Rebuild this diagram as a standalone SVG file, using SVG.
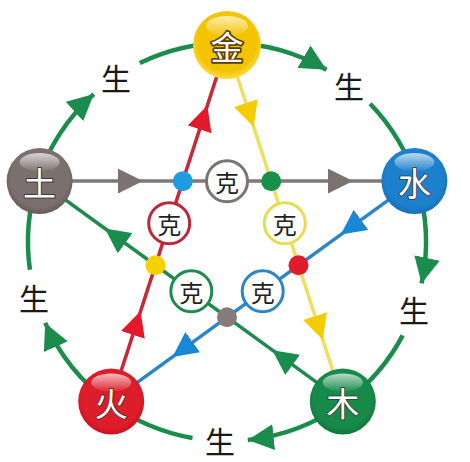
<svg xmlns="http://www.w3.org/2000/svg" width="470" height="462" viewBox="0 0 470 462">
<style>
.arc{fill:none;stroke:#1a8d4c;stroke-width:4.5;marker-end:url(#ag)}
.arc2{fill:none;stroke:#1a8d4c;stroke-width:4.5}
.star{fill:none;stroke-width:3.5}
.ke{fill:#fff;stroke-width:3}
.ket{font-family:"Noto Sans CJK SC","Noto Sans CJK JP",sans-serif;font-size:24px;fill:#222;text-anchor:middle;dominant-baseline:central}
.sheng{font-family:"Noto Sans CJK SC","Noto Sans CJK JP",sans-serif;font-size:30px;fill:#1a1a1a;text-anchor:middle;dominant-baseline:central}
.nt{font-family:"Noto Sans CJK SC","Noto Sans CJK JP",sans-serif;font-size:33px;fill:#fff;text-anchor:middle;dominant-baseline:central;paint-order:stroke;stroke-width:2;stroke-linejoin:round}
.hl{fill:url(#hlg)}
</style>
<defs>
<linearGradient id="hlg" x1="0" y1="0" x2="0" y2="1">
<stop offset="0" stop-color="#fff" stop-opacity="0.7"/>
<stop offset="1" stop-color="#fff" stop-opacity="0.05"/>
</linearGradient>
<radialGradient id="gJin" cx="0.5" cy="0.45" r="0.55"><stop offset="0.8" stop-color="#f4c400"/><stop offset="1" stop-color="#f7dc4a"/></radialGradient>
<radialGradient id="gTu" cx="0.5" cy="0.45" r="0.55"><stop offset="0.8" stop-color="#7b706d"/><stop offset="1" stop-color="#665b59"/></radialGradient>
<radialGradient id="gShui" cx="0.5" cy="0.45" r="0.55"><stop offset="0.8" stop-color="#1c80cc"/><stop offset="1" stop-color="#1670b8"/></radialGradient>
<radialGradient id="gHuo" cx="0.5" cy="0.45" r="0.55"><stop offset="0.8" stop-color="#dd1e2a"/><stop offset="1" stop-color="#c8141f"/></radialGradient>
<radialGradient id="gMu" cx="0.5" cy="0.45" r="0.55"><stop offset="0.8" stop-color="#178a4a"/><stop offset="1" stop-color="#10763d"/></radialGradient>
<marker id="ag" markerUnits="userSpaceOnUse" markerWidth="26" markerHeight="26" viewBox="0 0 24 24" refX="24" refY="12" orient="auto"><path d="M0,0 L24,12 L0,24 z" fill="#1a8d4c"/></marker>
<marker id="agr" markerUnits="userSpaceOnUse" markerWidth="25" markerHeight="25" viewBox="0 0 24 24" refX="24" refY="12" orient="auto"><path d="M0,0 L24,12 L0,24 z" fill="#7c7370"/></marker>
<marker id="ard" markerUnits="userSpaceOnUse" markerWidth="25" markerHeight="25" viewBox="0 0 24 24" refX="24" refY="12" orient="auto"><path d="M0,0 L24,12 L0,24 z" fill="#e2192b"/></marker>
<marker id="ayl" markerUnits="userSpaceOnUse" markerWidth="25" markerHeight="25" viewBox="0 0 24 24" refX="24" refY="12" orient="auto"><path d="M0,0 L24,12 L0,24 z" fill="#f5cc00"/></marker>
<marker id="abl" markerUnits="userSpaceOnUse" markerWidth="25" markerHeight="25" viewBox="0 0 24 24" refX="24" refY="12" orient="auto"><path d="M0,0 L24,12 L0,24 z" fill="#1888d6"/></marker>
<marker id="agn" markerUnits="userSpaceOnUse" markerWidth="25" markerHeight="25" viewBox="0 0 24 24" refX="24" refY="12" orient="auto"><path d="M0,0 L24,12 L0,24 z" fill="#1a8d4c"/></marker>
</defs>
<rect width="470" height="462" fill="#fff"/>
<g id="connectors">
<g id="sheng-cycle">
<path class="arc" d="M37.7,180.5 A199,199 0 0 1 93.8,94.1"/>
<path class="arc2" d="M139.8,63.1 A199,199 0 0 1 227,43"/>
<path class="arc" d="M227,43 A199,199 0 0 1 326.5,69.7"/>
<path class="arc2" d="M370.1,103.8 A199,199 0 0 1 416.3,180.5"/>
<path class="arc" d="M416.3,180.5 A199,199 0 0 1 421.6,283.4"/>
<path class="arc2" d="M402.7,335.4 A199,199 0 0 1 344,403"/>
<path class="arc" d="M344,403 A199,199 0 0 1 247.8,439.9"/>
<path class="arc2" d="M192.5,438 A199,199 0 0 1 110,403"/>
<path class="arc" d="M110,403 A199,199 0 0 1 45.2,322.9"/>
<path class="arc2" d="M29.9,269.7 A199,199 0 0 1 37.7,180.5"/>
</g>
<g id="ke-cycle">
<polyline class="star" stroke="#7f7876" marker-mid="url(#agr)" points="39.6,181.1 143,181.1 353,181.1 414.4,181.1"/>
<polyline class="star" stroke="#c62a3a" marker-mid="url(#ard)" points="111.2,401.4 140.6,311.1 207.3,105.6 227,45"/>
<polyline class="star" stroke="#ece05c" marker-mid="url(#ayl)" points="227,45 253.6,126.8 322.8,339.8 342.8,401.4"/>
<polyline class="star" stroke="#2a86c8" marker-mid="url(#abl)" points="414.4,181.1 340.8,234.6 172.5,356.9 111.2,401.4"/>
<polyline class="star" stroke="#1f8a4f" marker-mid="url(#agn)" points="342.8,401.4 272.4,350.2 104.9,228.5 39.6,181.1"/>
</g>
<g id="ke-labels">
<circle class="ke" cx="227" cy="181.2" r="20.5" stroke="#7a7472"/>
<text class="ket" x="227" y="181.2">克</text>
<circle class="ke" cx="169.2" cy="223.2" r="20.5" stroke="#b8293b"/>
<text class="ket" x="169.2" y="223.2">克</text>
<circle class="ke" cx="284.8" cy="223.2" r="20.5" stroke="#e6dc50"/>
<text class="ket" x="284.8" y="223.2">克</text>
<circle class="ke" cx="191.3" cy="291.2" r="20.5" stroke="#1f8a4f"/>
<text class="ket" x="191.3" y="291.2">克</text>
<circle class="ke" cx="262.7" cy="291.2" r="20.5" stroke="#2a86c8"/>
<text class="ket" x="262.7" y="291.2">克</text>
</g>
<g id="junctions">
<circle cx="182.8" cy="181.2" r="10" fill="#1e9ce2"/>
<circle cx="271.2" cy="181.2" r="10" fill="#17914a"/>
<circle cx="298.5" cy="265.2" r="10" fill="#e01c2a"/>
<circle cx="227" cy="317.2" r="10" fill="#857d7b"/>
<circle cx="155.5" cy="265.2" r="10" fill="#f3d200"/>
</g>
<g id="sheng-labels">
<text class="sheng" x="116" y="77">生</text>
<text class="sheng" x="349" y="85">生</text>
<text class="sheng" x="414" y="309">生</text>
<text class="sheng" x="220" y="440">生</text>
<text class="sheng" x="34" y="297">生</text>
</g>
</g>
<g id="node-jin" transform="translate(227,45)">
<circle r="34" fill="url(#gJin)"/>
<ellipse cy="-19" rx="21" ry="10" class="hl"/>
<text class="nt" y="1" stroke="#5a3c0a" style="stroke-width:3.5">金</text>
</g>
<g id="node-tu" transform="translate(39.6,181.1)">
<circle r="33" fill="url(#gTu)"/>
<ellipse cy="-19" rx="20" ry="9" class="hl"/>
<text class="nt" y="1" stroke="#3a3a3a">土</text>
</g>
<g id="node-shui" transform="translate(414.4,181.1)">
<circle r="33" fill="url(#gShui)"/>
<ellipse cy="-19" rx="20" ry="9" class="hl"/>
<text class="nt" y="1" stroke="#3a4a5a">水</text>
</g>
<g id="node-huo" transform="translate(111.2,401.4)">
<circle r="33" fill="url(#gHuo)"/>
<ellipse cy="-19" rx="20" ry="9" class="hl"/>
<text class="nt" y="1" stroke="#6a2a2a">火</text>
</g>
<g id="node-mu" transform="translate(342.8,401.4)">
<circle r="33" fill="url(#gMu)"/>
<ellipse cy="-19" rx="20" ry="9" class="hl"/>
<text class="nt" y="1" stroke="#2a4a3a">木</text>
</g>
</svg>
